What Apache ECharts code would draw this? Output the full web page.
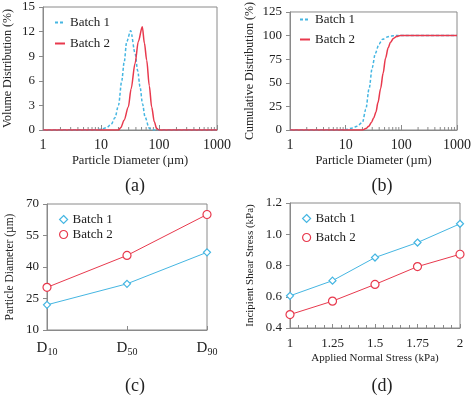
<!DOCTYPE html>
<html>
<head>
<meta charset="utf-8">
<script src="https://cdn.jsdelivr.net/npm/echarts@6/dist/echarts.min.js"></script>
<style>
  html, body { margin: 0; padding: 0; background: #fff; }
  #main { width: 474px; height: 396px; }
</style>
</head>
<body>
<div id="main"></div>
<script>
// (a) volume distribution
const sizeA1 = [1, 8, 10, 12.5, 15, 17.4, 20, 22.8, 25, 27.8, 32.5, 38.6, 43, 47, 52, 57.4, 68, 80, 1000];
const volA1 = [0, 0, 0.1, 0.3, 0.7, 1.5, 3, 6, 8.2, 10.8, 12.1, 9.4, 7.2, 5.3, 3.2, 1.6, 0.2, 0, 0];
const sizeA2 = [1, 20, 22, 25, 29.6, 33, 38.6, 44, 51.5, 56, 61.4, 68, 74.8, 83, 91, 100, 1000];
const volA2 = [0, 0, 0.3, 1.2, 2.8, 5, 8.1, 10.8, 12.6, 10.6, 8.5, 5.4, 2.8, 1.0, 0.2, 0, 0];

// (b) cumulative distribution
const sizeB1 = [1, 8, 10, 13.3, 16, 20, 23, 26.4, 30, 34, 39.7, 46, 55.7, 65, 78.5, 1000];
const cumB1 = [0, 0, 0.5, 2, 4, 8, 22, 44, 66, 81, 91, 96, 98.5, 99.5, 100, 100];
const sizeB2 = [1, 20, 23, 26, 29, 32, 35, 38, 42.5, 47, 52, 58, 64, 72, 82, 96, 1000];
const cumB2 = [0, 0, 1.5, 4, 8, 13, 19, 29, 44, 60, 76, 87, 93, 97, 99, 100, 100];

// (c) characteristic diameters
const catC = ['D10', 'D50', 'D90'];
const diaC1 = [22, 32, 47];
const diaC2 = [30.3, 45.5, 65];
const ticksC = [10, 25, 40, 55, 70];

// (d) incipient shear stress
const stressD = [1, 1.25, 1.5, 1.75, 2];
const shearD1 = [0.606, 0.703, 0.851, 0.947, 1.067];
const shearD2 = [0.486, 0.572, 0.679, 0.793, 0.872];

const cyan = '#45b6e2';
const red = '#e8394d';
const gray = '#8a8a8a';
const font = '"Liberation Serif", "Times New Roman", serif';

const zip = (xs, ys) => xs.map((x, i) => [x, ys[i]]);

function logMinor() {
  const out = [];
  for (let d = 1; d < 1000; d *= 10) {
    for (let k = 2; k < 10; k++) out.push([k * d, 0]);
  }
  return out;
}

function minorSeries(idx) {
  return {
    type: 'custom', xAxisIndex: idx, yAxisIndex: idx, silent: true,
    data: logMinor(),
    renderItem: (params, api) => {
      const p = api.coord([api.value(0), api.value(1)]);
      return {
        type: 'line',
        shape: { x1: p[0], y1: p[1], x2: p[0], y2: p[1] - 3 },
        style: { stroke: gray, lineWidth: 1 }
      };
    }
  };
}

const grids = [
  { left: 43, right: 257, top: 7, height: 123 },
  { left: 290, right: 15, top: 7, height: 123 },
  { left: 47, right: 267, top: 204, height: 126 },
  { left: 290, right: 14, top: 203, height: 125 }
].map(g => Object.assign({ show: true, borderColor: gray, borderWidth: 1, backgroundColor: '#fff' }, g));

const axLine = { show: true, lineStyle: { color: gray } };
const lab = { fontFamily: font, fontSize: 13, color: '#222' };
const ts = size => ({ fontFamily: font, fontSize: size, color: '#222' });
const noMark = { color: 'rgba(0,0,0,0)', borderWidth: 0 };

function logX(idx) {
  return {
    type: 'log', logBase: 10, min: 1, max: 1000, gridIndex: idx,
    name: 'Particle Diameter (µm)', nameLocation: 'middle', nameGap: 24, nameTextStyle: ts(12.5),
    axisLine: axLine, splitLine: { show: false },
    axisTick: { inside: true, length: 5, lineStyle: { color: gray } },
    axisLabel: Object.assign({ margin: 8, formatter: v => String(v) }, ts(14))
  };
}

function legendTxt(name) { return name.split(' (')[0]; }

const option = {
  backgroundColor: '#fff',
  animation: false,
  title: [
    { text: '(a)', left: 130, top: 172, textAlign: 'center' },
    { text: '(b)', left: 377, top: 172, textAlign: 'center' },
    { text: '(c)', left: 130, top: 372, textAlign: 'center' },
    { text: '(d)', left: 377, top: 372, textAlign: 'center' }
  ].map(t => Object.assign(t, { textStyle: { fontFamily: font, fontSize: 18, fontWeight: 'normal', color: '#222' } })),
  grid: grids,
  legend: [
    {
      left: 54, top: 16, padding: 0, orient: 'vertical', itemGap: 8, itemWidth: 10, itemHeight: 12,
      data: [
        { name: 'Batch 1 (a)', itemStyle: noMark },
        { name: 'Batch 2 (a)', itemStyle: noMark }
      ],
      formatter: legendTxt, textStyle: lab
    },
    {
      left: 299, top: 13, padding: 0, orient: 'vertical', itemGap: 7, itemWidth: 10, itemHeight: 12,
      data: [
        { name: 'Batch 1 (b)', itemStyle: noMark },
        { name: 'Batch 2 (b)', itemStyle: noMark }
      ],
      formatter: legendTxt, textStyle: lab
    },
    {
      left: 59, top: 213, padding: 0, orient: 'vertical', itemGap: 2, itemWidth: 8, itemHeight: 8,
      data: [
        { name: 'Batch 1 (c)', icon: 'diamond', itemStyle: { color: '#fff', borderColor: cyan, borderWidth: 1.2 } },
        { name: 'Batch 2 (c)', icon: 'circle', itemStyle: { color: '#fff', borderColor: red, borderWidth: 1.2 } }
      ],
      formatter: legendTxt, textStyle: lab
    },
    {
      left: 302, top: 212, padding: 0, orient: 'vertical', itemGap: 6, itemWidth: 8, itemHeight: 8,
      data: [
        { name: 'Batch 1 (d)', icon: 'diamond', itemStyle: { color: '#fff', borderColor: cyan, borderWidth: 1.2 } },
        { name: 'Batch 2 (d)', icon: 'circle', itemStyle: { color: '#fff', borderColor: red, borderWidth: 1.2 } }
      ],
      formatter: legendTxt, textStyle: lab
    }
  ],
  xAxis: [
    logX(0),
    logX(1),
    {
      type: 'category', gridIndex: 2, data: catC, boundaryGap: false,
      axisLine: axLine,
      axisTick: { inside: true, length: 4, lineStyle: { color: gray } },
      axisLabel: {
        margin: 9, color: '#222',
        formatter: v => '{d|D}{s|' + v.slice(1) + '}',
        rich: {
          d: { fontFamily: font, fontSize: 15, color: '#222' },
          s: { fontFamily: font, fontSize: 10, color: '#222', padding: [8, 0, 0, 0] }
        }
      }
    },
    {
      type: 'value', gridIndex: 3, min: 1, max: 2, interval: 0.25,
      name: 'Applied Normal Stress (kPa)', nameLocation: 'middle', nameGap: 25, nameTextStyle: ts(11),
      axisLine: axLine, splitLine: { show: false },
      axisTick: { inside: true, length: 4, lineStyle: { color: gray } },
      minorTick: { show: true, splitNumber: 5, length: 3, lineStyle: { color: gray } },
      axisLabel: Object.assign({ margin: 9 }, lab)
    }
  ],
  yAxis: [
    {
      type: 'value', gridIndex: 0, min: 0, max: 15, interval: 3,
      name: 'Volume Distribution (%)', nameLocation: 'middle', nameGap: 29, nameTextStyle: ts(12),
      axisLine: axLine, splitLine: { show: false },
      axisTick: { show: true, length: 4, lineStyle: { color: gray } },
      axisLabel: Object.assign({ margin: 8 }, lab)
    },
    {
      type: 'value', gridIndex: 1, min: 0, max: 125, interval: 25,
      name: 'Cumulative Distribution (%)', nameLocation: 'middle', nameGap: 34, nameTextStyle: ts(12),
      axisLine: axLine, splitLine: { show: false },
      axisTick: { show: true, length: 4, lineStyle: { color: gray } },
      axisLabel: Object.assign({ margin: 8 }, lab)
    },
    {
      type: 'value', gridIndex: 2, min: 10, max: 70,
      name: 'Particle Diameter (µm)', nameLocation: 'middle', nameGap: 31, nameTextStyle: ts(11.5),
      axisLine: axLine, splitLine: { show: false },
      axisTick: { show: true, length: 4, customValues: ticksC, lineStyle: { color: gray } },
      axisLabel: Object.assign({ margin: 8, customValues: ticksC }, lab)
    },
    {
      type: 'value', gridIndex: 3, min: 0.4, max: 1.2, interval: 0.2,
      name: 'Incipient Shear Stress (kPa)', nameLocation: 'middle', nameGap: 34, nameTextStyle: ts(11),
      axisLine: axLine, splitLine: { show: false },
      axisTick: { show: true, length: 4, lineStyle: { color: gray } },
      axisLabel: Object.assign({ margin: 8, formatter: v => v.toFixed(1) }, lab)
    }
  ],
  series: [
    minorSeries(0),
    minorSeries(1),
    {
      name: 'Batch 1 (a)', type: 'line', xAxisIndex: 0, yAxisIndex: 0,
      data: zip(sizeA1, volA1), smooth: 0.3, smoothMonotone: 'x', showSymbol: false, symbol: 'none',
      lineStyle: { color: cyan, width: 1.5, type: [3, 2] }, itemStyle: { color: cyan }
    },
    {
      name: 'Batch 2 (a)', type: 'line', xAxisIndex: 0, yAxisIndex: 0,
      data: zip(sizeA2, volA2), smooth: 0.3, smoothMonotone: 'x', showSymbol: false, symbol: 'none',
      lineStyle: { color: red, width: 1.5 }, itemStyle: { color: red }
    },
    {
      name: 'Batch 1 (b)', type: 'line', xAxisIndex: 1, yAxisIndex: 1,
      data: zip(sizeB1, cumB1), smooth: 0.3, smoothMonotone: 'x', showSymbol: false, symbol: 'none',
      lineStyle: { color: cyan, width: 1.5, type: [3, 2] }, itemStyle: { color: cyan }
    },
    {
      name: 'Batch 2 (b)', type: 'line', xAxisIndex: 1, yAxisIndex: 1,
      data: zip(sizeB2, cumB2), smooth: 0.3, smoothMonotone: 'x', showSymbol: false, symbol: 'none',
      lineStyle: { color: red, width: 1.5 }, itemStyle: { color: red }
    },
    {
      name: 'Batch 1 (c)', type: 'line', xAxisIndex: 2, yAxisIndex: 2,
      data: diaC1, symbol: 'diamond', symbolSize: 7,
      lineStyle: { color: cyan, width: 1 }, itemStyle: { color: '#fff', borderColor: cyan, borderWidth: 1.2 }
    },
    {
      name: 'Batch 2 (c)', type: 'line', xAxisIndex: 2, yAxisIndex: 2,
      data: diaC2, symbol: 'circle', symbolSize: 8,
      lineStyle: { color: red, width: 1 }, itemStyle: { color: '#fff', borderColor: red, borderWidth: 1.2 }
    },
    {
      name: 'Batch 1 (d)', type: 'line', xAxisIndex: 3, yAxisIndex: 3,
      data: zip(stressD, shearD1), symbol: 'diamond', symbolSize: 7,
      lineStyle: { color: cyan, width: 1 }, itemStyle: { color: '#fff', borderColor: cyan, borderWidth: 1.2 }
    },
    {
      name: 'Batch 2 (d)', type: 'line', xAxisIndex: 3, yAxisIndex: 3,
      data: zip(stressD, shearD2), symbol: 'circle', symbolSize: 8,
      lineStyle: { color: red, width: 1 }, itemStyle: { color: '#fff', borderColor: red, borderWidth: 1.2 }
    }
  ]
};

const chart = echarts.init(document.getElementById('main'));
chart.setOption(option);
</script>
</body>
</html>
